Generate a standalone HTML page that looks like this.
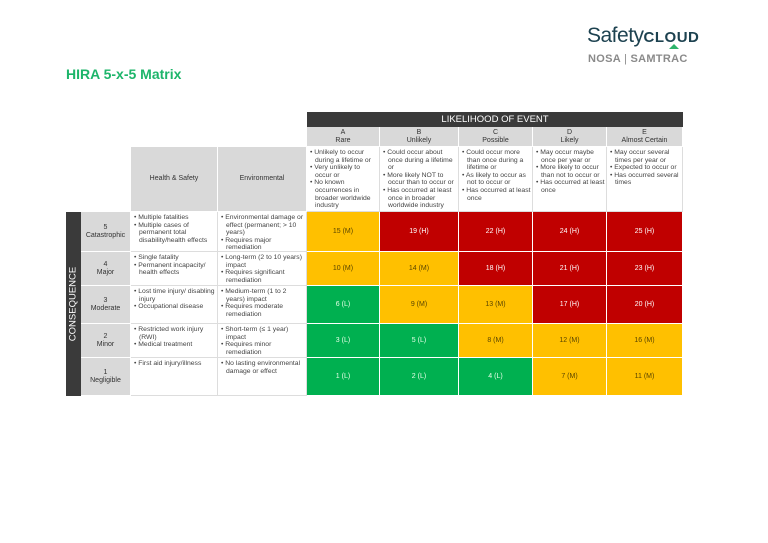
<!DOCTYPE html>
<html><head><meta charset="utf-8"><style>
*{margin:0;padding:0;box-sizing:border-box}
body{width:768px;height:543px;background:#fff;position:relative;overflow:hidden;font-family:"Liberation Sans",sans-serif}
.a{position:absolute}
.c{position:absolute;display:flex;align-items:center;justify-content:center;text-align:center;font-size:7px;line-height:8px;color:#333}
.t{position:absolute;font-size:6.8px;line-height:7.6px;color:#444;padding:2px 1px 0 3px}
.t div{padding-left:5px;text-indent:-5px}
.y{background:#ffc000;color:#5a4500}.r{background:#c00000;color:#fff}.g{background:#00b050;color:#e8ffe8}
.gr{background:#d9d9d9}
.b{border-right:1px solid #fff;border-bottom:1px solid #fff}
.lb{border-right:1px solid #ddd;border-bottom:1px solid #ddd}
</style></head><body>
<div class="a" style="left:66px;top:66px;font-size:14px;color:#1db56a;font-weight:bold;letter-spacing:0">HIRA 5-x-5 Matrix</div>
<div class="a" style="left:587px;top:24px;font-size:21px;color:#1d4250;letter-spacing:-0.5px">Safety<span style="font-weight:bold;font-size:15px;letter-spacing:0.5px">CLOUD</span></div>
<div class="a" style="left:669px;top:44px;width:0;height:0;border-left:5px solid transparent;border-right:5px solid transparent;border-bottom:5px solid #2db36a"></div>
<div class="a" style="left:588px;top:53px;font-size:11px;color:#8a8a8a;font-weight:bold;letter-spacing:0.3px">NOSA <span style="font-weight:normal">|</span> SAMTRAC</div>

<div class="c" style="left:307px;top:112px;width:376px;height:15px;background:#3a3a3a;color:#fff;font-size:9.5px">LIKELIHOOD OF EVENT</div>
<div class="c gr b" style="left:307px;top:127px;width:73px;height:20px">A<br>Rare</div>
<div class="c gr b" style="left:380px;top:127px;width:79px;height:20px">B<br>Unlikely</div>
<div class="c gr b" style="left:459px;top:127px;width:74px;height:20px">C<br>Possible</div>
<div class="c gr b" style="left:533px;top:127px;width:74px;height:20px">D<br>Likely</div>
<div class="c gr b" style="left:607px;top:127px;width:76px;height:20px">E<br>Almost Certain</div>

<div class="c gr b" style="left:131px;top:147px;width:87px;height:65px">Health &amp; Safety</div>
<div class="c gr b" style="left:218px;top:147px;width:89px;height:65px">Environmental</div>

<div class="t lb" style="left:307px;top:147px;width:73px;height:65px"><div>• Unlikely to occur during a lifetime or</div><div>• Very unlikely to occur or</div><div>• No known occurrences in broader worldwide industry</div></div>
<div class="t lb" style="left:380px;top:147px;width:79px;height:65px"><div>• Could occur about once during a lifetime or</div><div>• More likely NOT to occur than to occur or</div><div>• Has occurred at least once in broader worldwide industry</div></div>
<div class="t lb" style="left:459px;top:147px;width:74px;height:65px"><div>• Could occur more than once during a lifetime or</div><div>• As likely to occur as not to occur or</div><div>• Has occurred at least once</div></div>
<div class="t lb" style="left:533px;top:147px;width:74px;height:65px"><div>• May occur maybe once per year or</div><div>• More likely to occur than not to occur or</div><div>• Has occurred at least once</div></div>
<div class="t lb" style="left:607px;top:147px;width:76px;height:65px"><div>• May occur several times per year or</div><div>• Expected to occur or</div><div>• Has occurred several times</div></div>

<div class="a" style="left:66px;top:212px;width:15px;height:184px;background:#3a3a3a"></div>
<div class="a" style="left:73px;top:304px;transform:translate(-50%,-50%) rotate(-90deg);color:#fff;font-size:9.5px;white-space:nowrap">CONSEQUENCE</div>

<div class="c gr b" style="left:81px;top:212px;width:50px;height:40px">5<br>Catastrophic</div>
<div class="c gr b" style="left:81px;top:252px;width:50px;height:34px">4<br>Major</div>
<div class="c gr b" style="left:81px;top:286px;width:50px;height:38px">3<br>Moderate</div>
<div class="c gr b" style="left:81px;top:324px;width:50px;height:34px">2<br>Minor</div>
<div class="c gr b" style="left:81px;top:358px;width:50px;height:38px">1<br>Negligible</div>

<div class="t lb" style="left:131px;top:212px;width:87px;height:40px"><div>• Multiple fatalities</div><div>• Multiple cases of permanent total disability/health effects</div></div>
<div class="t lb" style="left:218px;top:212px;width:89px;height:40px"><div>• Environmental damage or effect (permanent; &gt; 10 years)</div><div>• Requires major remediation</div></div>
<div class="t lb" style="left:131px;top:252px;width:87px;height:34px"><div>• Single fatality</div><div>• Permanent incapacity/ health effects</div></div>
<div class="t lb" style="left:218px;top:252px;width:89px;height:34px"><div>• Long-term (2 to 10 years) impact</div><div>• Requires significant remediation</div></div>
<div class="t lb" style="left:131px;top:286px;width:87px;height:38px"><div>• Lost time injury/ disabling injury</div><div>• Occupational disease</div></div>
<div class="t lb" style="left:218px;top:286px;width:89px;height:38px"><div>• Medium-term (1 to 2 years) impact</div><div>• Requires moderate remediation</div></div>
<div class="t lb" style="left:131px;top:324px;width:87px;height:34px"><div>• Restricted work injury (RWI)</div><div>• Medical treatment</div></div>
<div class="t lb" style="left:218px;top:324px;width:89px;height:34px"><div>• Short-term (≤ 1 year) impact</div><div>• Requires minor remediation</div></div>
<div class="t lb" style="left:131px;top:358px;width:87px;height:38px"><div>• First aid injury/illness</div></div>
<div class="t lb" style="left:218px;top:358px;width:89px;height:38px"><div>• No lasting environmental damage or effect</div></div>

<div class="c y b" style="left:307px;top:212px;width:73px;height:40px">15 (M)</div>
<div class="c r b" style="left:380px;top:212px;width:79px;height:40px">19 (H)</div>
<div class="c r b" style="left:459px;top:212px;width:74px;height:40px">22 (H)</div>
<div class="c r b" style="left:533px;top:212px;width:74px;height:40px">24 (H)</div>
<div class="c r b" style="left:607px;top:212px;width:76px;height:40px">25 (H)</div>
<div class="c y b" style="left:307px;top:252px;width:73px;height:34px">10 (M)</div>
<div class="c y b" style="left:380px;top:252px;width:79px;height:34px">14 (M)</div>
<div class="c r b" style="left:459px;top:252px;width:74px;height:34px">18 (H)</div>
<div class="c r b" style="left:533px;top:252px;width:74px;height:34px">21 (H)</div>
<div class="c r b" style="left:607px;top:252px;width:76px;height:34px">23 (H)</div>
<div class="c g b" style="left:307px;top:286px;width:73px;height:38px">6 (L)</div>
<div class="c y b" style="left:380px;top:286px;width:79px;height:38px">9 (M)</div>
<div class="c y b" style="left:459px;top:286px;width:74px;height:38px">13 (M)</div>
<div class="c r b" style="left:533px;top:286px;width:74px;height:38px">17 (H)</div>
<div class="c r b" style="left:607px;top:286px;width:76px;height:38px">20 (H)</div>
<div class="c g b" style="left:307px;top:324px;width:73px;height:34px">3 (L)</div>
<div class="c g b" style="left:380px;top:324px;width:79px;height:34px">5 (L)</div>
<div class="c y b" style="left:459px;top:324px;width:74px;height:34px">8 (M)</div>
<div class="c y b" style="left:533px;top:324px;width:74px;height:34px">12 (M)</div>
<div class="c y b" style="left:607px;top:324px;width:76px;height:34px">16 (M)</div>
<div class="c g b" style="left:307px;top:358px;width:73px;height:38px">1 (L)</div>
<div class="c g b" style="left:380px;top:358px;width:79px;height:38px">2 (L)</div>
<div class="c g b" style="left:459px;top:358px;width:74px;height:38px">4 (L)</div>
<div class="c y b" style="left:533px;top:358px;width:74px;height:38px">7 (M)</div>
<div class="c y b" style="left:607px;top:358px;width:76px;height:38px">11 (M)</div>
</body></html>
